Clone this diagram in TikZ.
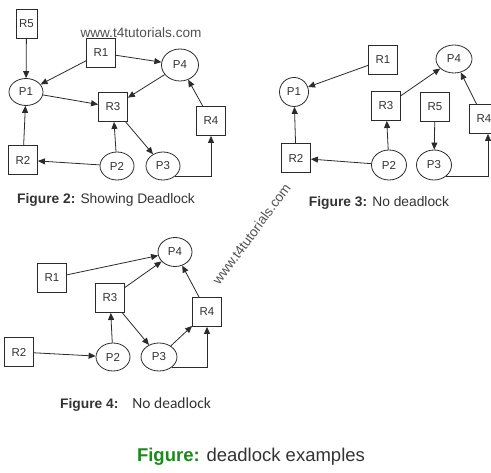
\documentclass[tikz,border=0pt]{standalone}
\usepackage{fontspec}
\setmainfont{Liberation Sans}
\newfontfamily\calib{Carlito}
\usetikzlibrary{arrows.meta,shapes.geometric}
\definecolor{ln}{HTML}{2B2B2B}
\definecolor{tx}{HTML}{333333}
\definecolor{fgreen}{HTML}{1A8A1A}
\tikzset{
  res/.style={draw=ln, line width=0.8pt, minimum width=29pt, minimum height=29pt, inner sep=0pt, font=\fontsize{11.5}{13}\selectfont, text=tx},
  proc/.style={draw=ln, line width=0.8pt, ellipse, minimum width=34pt, minimum height=28pt, inner sep=0pt, font=\fontsize{11.5}{13}\selectfont, text=tx},
  arr/.style={draw=ln, line width=0.8pt, -{Triangle[length=7pt,width=6pt]}},
  figcap/.style={font=\fontsize{13.8}{16}\selectfont, text=tx},
  wm/.style={font=\fontsize{13.6}{16}\selectfont, text=tx!85}
}
\begin{document}
\begin{tikzpicture}[x=1pt,y=-1pt]
\useasboundingbox[fill=white] (0,0) rectangle (491,473);
% ---------- Figure 2 ----------
\node[res, minimum width=21pt] (aR5) at (26.5,23.5) {R5};
\node[res] (aR1) at (101,53) {R1};
\node[proc, minimum width=37pt, minimum height=32pt] (aP4) at (180,65) {P4};
\node[proc, minimum height=27pt] (aP1) at (26,92) {P1};
\node[res] (aR3) at (113,107) {R3};
\node[res] (aR4) at (211,121) {R4};
\node[res] (aR2) at (23,160) {R2};
\node[proc] (aP2) at (117,166) {P2};
\node[proc] (aP3) at (163,166) {P3};
\node[wm] (wm1) at (141,33) {www.t4tutorials.com};
\node[figcap] (cap2) at (106,200) {\textbf{Figure 2:} Showing Deadlock};
\draw[arr] (aR5) -- (aP1);
\draw[arr] (aR1) -- (aP1);
\draw[arr] (aR1) -- (aP4);
\draw[arr] (aP4) -- (aR3);
\draw[arr] (aP1) -- (aR3);
\draw[arr] (aR3) -- (aP3);
\draw[arr] (aP2) -- (aR3);
\draw[arr] (aP2) -- (aR2);
\draw[arr] (aR2) -- (aP1);
\draw[arr] (aP3.-40) -| (aR4.south);
\draw[arr] (aR4) -- (aP4);
% ---------- Figure 3 ----------
\node[res] (bR1) at (383,60) {R1};
\node[proc, minimum width=29pt, minimum height=29pt] (bP1) at (294,92) {P1};
\node[proc, minimum width=36pt] (bP4) at (454,59) {P4};
\node[res] (bR3) at (386,106) {R3};
\node[res] (bR5) at (435,107) {R5};
\node[res] (bR4) at (484,119) {R4};
\node[res] (bR2) at (296,158) {R2};
\node[proc, minimum width=35pt, minimum height=30pt] (bP2) at (389,165) {P2};
\node[proc, minimum width=35pt, minimum height=30pt] (bP3) at (434,165) {P3};
\node[figcap] (cap3) at (379,203) {\textbf{Figure 3:} No deadlock};
\draw[arr] (bR1) -- (bP1);
\draw[arr] (bR2) -- (bP1);
\draw[arr] (bP2) -- (bR2);
\draw[arr] (bP2) -- (bR3);
\draw[arr] (bR3) -- (bP4);
\draw[arr] (bR5) -- (bP3);
\draw[arr] (bP3.-45) -| ([xshift=4pt]bR4.south);
\draw[arr] (bR4) -- (bP4);
% ---------- Figure 4 ----------
\node[proc, minimum width=34pt, minimum height=29pt] (cP4) at (175,252) {P4};
\node[res] (cR1) at (52,278) {R1};
\node[res] (cR3) at (110,298) {R3};
\node[res] (cR4) at (207,312) {R4};
\node[res] (cR2) at (19,352) {R2};
\node[proc] (cP2) at (113,357) {P2};
\node[proc, minimum width=36pt] (cP3) at (159,357) {P3};
\node[wm, rotate=53.5] (wm2) at (251.5,234) {www.t4tutorials.com};
\node[figcap, anchor=west, inner sep=0pt] (cap4) at (60,405) {\textbf{Figure 4:}\hspace{14pt}{\calib\fontsize{15.5}{18}\selectfont No deadlock}};
\draw[arr] (cR1) -- (cP4);
\draw[arr] (cR3) -- (cP4);
\draw[arr] (cR4) -- (cP4);
\draw[arr] (cP2) -- (cR3);
\draw[arr] (cR3) -- (cP3);
\draw[arr] (cP3) -- (cR4);
\draw[arr] (cR2) -- (cP2);
\draw[arr] (cP3.-40) -| (cR4.south);
% ---------- main caption ----------
\node[font=\fontsize{18.5}{21}\selectfont, text=tx] (mcap) at (251,457) {\textcolor{fgreen}{\textbf{Figure:}} deadlock examples};
\end{tikzpicture}
\end{document}
